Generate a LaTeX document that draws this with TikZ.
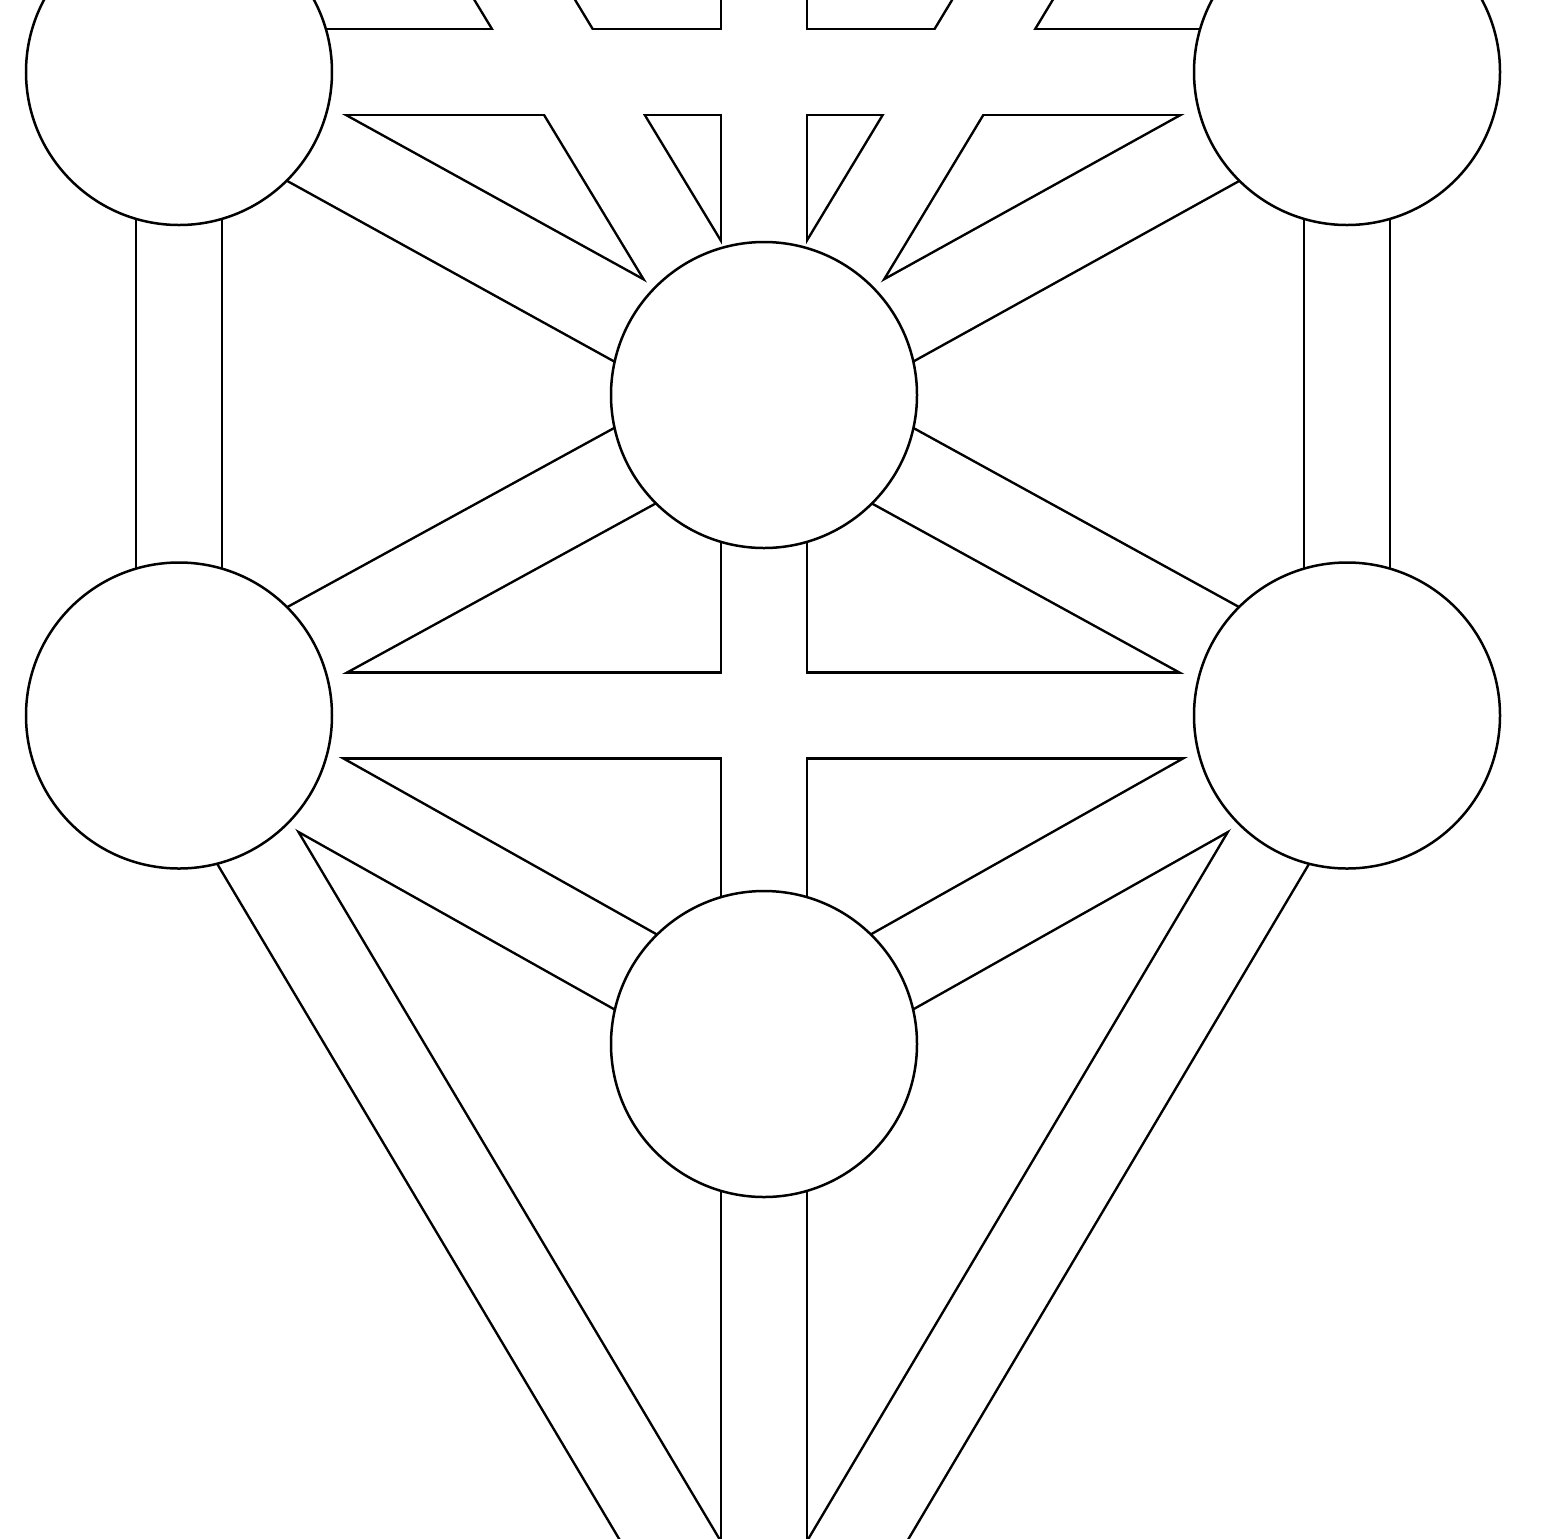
\documentclass[tikz,border=0pt]{standalone}
\usetikzlibrary{backgrounds}

\newcommand{\sephirotpaths}{keter/chokmah, keter/binah, keter/tiferet,
  chokmah/binah, chokmah/tiferet, chokmah/chesed, binah/tiferet,
  binah/geburah, chesed/geburah, chesed/tiferet, chesed/netzach,
  geburah/tiferet, geburah/hod, tiferet/netzach, tiferet/yesod,
  tiferet/hod, netzach/hod, netzach/yesod, netzach/malkuth,
  hod/yesod, hod/malkuth, yesod/malkuth}

\begin{document}
\begin{tikzpicture}
      \tikzstyle{sephira} = [circle, draw, fill=white, line width=0.025cm,
                             minimum size=3.06cm, inner sep=0pt]
      \tikzstyle{pathedge} = [draw, line width=0.885cm]
      \tikzstyle{pathfill} = [draw=white, line width=0.835cm]
      \clip[use as bounding box] (0,0) rectangle (15.44,-15.38);
      % the sephirot, some of them outside the frame
      \node[sephira] (keter)   at (7.64,8.92)   {};
      \node[sephira] (binah)   at (1.79,5.71)   {};
      \node[sephira] (chokmah) at (13.47,5.71)  {};
      \node[sephira] (geburah) at (1.79,-0.72)  {};
      \node[sephira] (chesed)  at (13.47,-0.72) {};
      \node[sephira] (tiferet) at (7.64,-3.95)  {};
      \node[sephira] (hod)     at (1.79,-7.155) {};
      \node[sephira] (netzach) at (13.47,-7.155) {};
      \node[sephira] (yesod)   at (7.64,-10.44) {};
      \node[sephira] (malkuth) at (7.64,-16.98) {};
      % the paths behind them: black band, then white inside
      \begin{scope}[on background layer]
        \clip (0,0) rectangle (15.44,-15.38);
        \foreach \a/\b in \sephirotpaths
          \path[pathedge] (\a.center) -- (\b.center);
        \foreach \a/\b in \sephirotpaths
          \path[pathfill] (\a.center) -- (\b.center);
      \end{scope}
    \end{tikzpicture}
\end{document}
